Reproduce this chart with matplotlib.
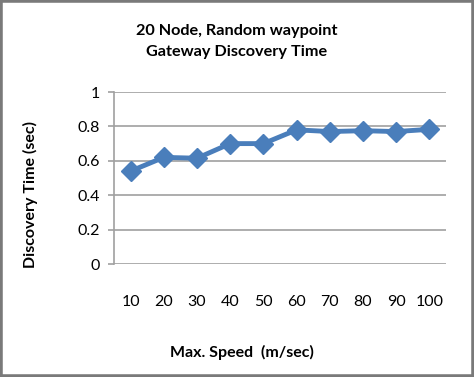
import matplotlib
matplotlib.use("Agg")
import matplotlib.pyplot as plt
from matplotlib.patches import Rectangle

speeds = ["10", "20", "30", "40", "50", "60", "70", "80", "90", "100"]
discovery_time = [0.54, 0.62, 0.615, 0.70, 0.70, 0.78, 0.77, 0.775, 0.77, 0.783]
y_ticks = [0, 0.2, 0.4, 0.6, 0.8, 1]
y_tick_labels = ["0", "0.2", "0.4", "0.6", "0.8", "1"]

plt.rcParams['font.family'] = ['Lato', 'DejaVu Sans']

fig = plt.figure(figsize=(4.74, 3.77), dpi=100)
ax = fig.add_axes([114/474, 1-264/377, (446-114)/474, (264-92)/377])

x = list(range(len(speeds)))
ax.plot(x, discovery_time, color="#4a7ebb", linewidth=3.5, marker="D",
        markersize=10, markerfacecolor="#4a7ebb", markeredgecolor="#4a7ebb",
        zorder=3, clip_on=False)

ax.set_xlim(-0.5, len(speeds) - 0.5)
ax.set_ylim(0, 1)
ax.set_xticks(x)
ax.set_xticklabels(speeds, fontsize=11.5)
ax.set_yticks(y_ticks)
ax.set_yticklabels(y_tick_labels, fontsize=11.5)
ax.tick_params(axis='x', length=0, pad=22)
ax.tick_params(axis='y', length=4, width=1.2, color="#a0a0a0", pad=6)
ax.yaxis.grid(True, color="#a0a0a0", linewidth=1.2)
ax.set_axisbelow(True)
for s in ["top", "right", "bottom"]:
    ax.spines[s].set_visible(False)
ax.spines["left"].set_color("#a0a0a0")
ax.spines["left"].set_linewidth(1.2)

fig.text(30/474, 1-195/377, "Discovery Time (sec)", ha="center", va="center",
         rotation=90, fontsize=11.5, fontweight="bold")
fig.text(242/474, 1-352/377, "Max. Speed  (m/sec)", ha="center", va="center",
         fontsize=11.5, fontweight="bold")
fig.text(237/474, 1-31/377, "20 Node, Random waypoint", ha="center", va="center",
         fontsize=11.7, fontweight="bold")
fig.text(237/474, 1-52/377, "Gateway Discovery Time", ha="center", va="center",
         fontsize=11.7, fontweight="bold")

fig.patches.append(Rectangle((0, 0), 1, 1, transform=fig.transFigure, fill=False,
                             edgecolor="#7a7a7a", linewidth=4))

fig.savefig("out.png", dpi=100)
